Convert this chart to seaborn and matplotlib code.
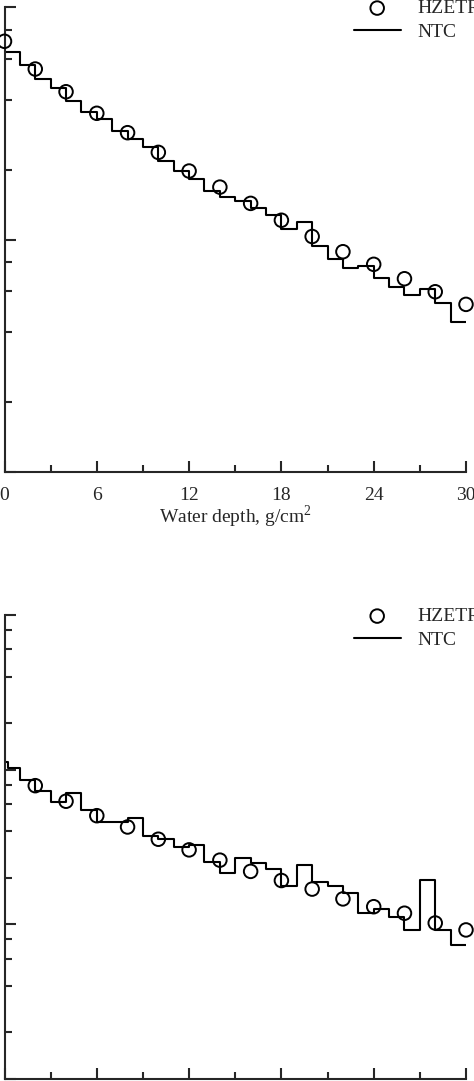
import matplotlib
matplotlib.use("Agg")
import matplotlib.pyplot as plt
import matplotlib.ticker as mticker
import numpy as np
import seaborn as sns

# valorile (scara log pe y)
depth_edges = list(range(0, 31))
depth_points = list(range(0, 31, 2))

# panoul de sus
ntc_top = [6.42, 5.63, 4.90, 4.47, 3.95, 3.55, 3.29, 2.94, 2.70, 2.49,
           2.18, 1.98, 1.82, 1.61, 1.53, 1.47, 1.36, 1.27, 1.11, 1.19,
           0.935, 0.822, 0.754, 0.769, 0.685, 0.622, 0.579, 0.614, 0.535, 0.440]
hzetrn_top = [7.12, 5.41, 4.32, 3.49, 2.88, 2.37, 1.97, 1.68, 1.43, 1.21,
              1.03, 0.886, 0.782, 0.678, 0.596, 0.526]

# panoul de jos (primul bin e ingust: 0-0.2)
depth_edges_bot = [0, 0.2] + list(range(1, 31))
ntc_bot = [0.1126, 0.1021, 0.0858, 0.0731, 0.0618, 0.0710, 0.0545, 0.0461, 0.0461, 0.0484,
           0.0372, 0.0357, 0.0317, 0.0326, 0.0253, 0.0216, 0.0268, 0.0251, 0.0228, 0.0176,
           0.0242, 0.0189, 0.0178, 0.0160, 0.0119, 0.0125, 0.0111, 0.0092, 0.0194, 0.0092,
           0.00736]
depth_points_bot = list(range(2, 31, 2))
hzetrn_bot = [0.0788, 0.0625, 0.0504, 0.0426, 0.0355, 0.0303, 0.0260, 0.0220,
              0.0192, 0.0169, 0.0146, 0.0130, 0.0118, 0.0102, 0.0092]

sns.set_style("ticks")
plt.rcParams['font.family'] = ['Liberation Serif', 'DejaVu Serif']
plt.rcParams['mathtext.fontset'] = 'stix'

fig = plt.figure(figsize=(4.74, 10.81), dpi=100)
W, H = 474, 1081
ax1 = fig.add_axes([4.5 / W, 1 - 472 / H, 461.5 / W, 465 / H])
ax2 = fig.add_axes([4.5 / W, 1 - 1079 / H, 461.5 / W, 464 / H])


def panou(ax, edges, ntc, px, hz, ylim):
    yy = list(ntc) + [ntc[-1]]
    sns.lineplot(x=edges, y=yy, ax=ax, color='black', linewidth=1.5,
                 drawstyle='steps-post', estimator=None, sort=False, label='NTC')
    sns.scatterplot(x=px, y=hz, ax=ax, marker='o', s=95, facecolor='none',
                    edgecolor='black', linewidth=1.4, clip_on=False, zorder=5,
                    label='HZETRN')
    ax.set_yscale('log')
    ax.set_xlim(0, 30)
    ax.set_ylim(*ylim)
    ax.xaxis.set_major_locator(mticker.MultipleLocator(6))
    ax.xaxis.set_minor_locator(mticker.MultipleLocator(3))
    ax.yaxis.set_major_locator(mticker.LogLocator(base=10))
    ax.yaxis.set_minor_locator(mticker.LogLocator(base=10, subs=[2, 4, 6, 8]))
    ax.yaxis.set_minor_formatter(mticker.NullFormatter())
    # etichetele de pe y sunt taiate in original
    ax.tick_params(which='major', direction='in', length=8, width=1.5, labelsize=14,
                   pad=11, labelleft=False)
    ax.tick_params(which='minor', direction='in', length=5, width=1.5)
    for s in ['top', 'right']:
        ax.spines[s].set_visible(False)
    for s in ['left', 'bottom']:
        ax.spines[s].set_linewidth(1.5)
    h, l = ax.get_legend_handles_labels()
    ax.legend([h[1], h[0]], [l[1], l[0]], loc='upper left', bbox_to_anchor=(0.757, 1.016),
              frameon=False, fontsize=14, handlelength=2.4, handletextpad=0.85,
              labelspacing=0.3, borderpad=0, borderaxespad=0)
    ax.set_ylabel('')


panou(ax1, depth_edges, ntc_top, depth_points, hzetrn_top, (0.1, 10))
panou(ax2, depth_edges_bot, ntc_bot, depth_points_bot, hzetrn_bot, (0.001, 1))

ax1.set_xlabel('Water depth, g/cm$^{\\mathregular{2}}$', fontsize=14, labelpad=0)
ax2.set_xlabel('')
ax2.tick_params(labelbottom=False)

plt.savefig("out.png", dpi=100)
plt.close()
